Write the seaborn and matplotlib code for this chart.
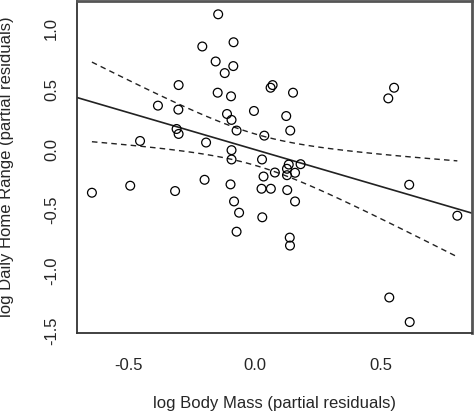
import numpy as np
import pandas as pd
import matplotlib
matplotlib.use('Agg')
import matplotlib.pyplot as plt
import seaborn as sns

#=====================
# DATA
#=====================
body_mass = [-0.146, -0.209, -0.085, -0.156, -0.086, -0.120, -0.303, -0.148,
             -0.095, 0.062, 0.070, 0.151, 0.529, 0.552, -0.385, -0.304,
             -0.111, -0.004, 0.124, -0.093, -0.311, -0.303, -0.073, 0.140,
             0.037, -0.456, -0.194, -0.093, -0.093, 0.028, 0.134, 0.181,
             0.127, 0.079, 0.159, 0.127, 0.034, -0.647, -0.495, -0.317,
             -0.200, -0.097, 0.026, 0.063, 0.128, 0.612, -0.083, 0.159,
             -0.063, 0.029, -0.073, 0.138, 0.139, 0.803, 0.533, 0.614]
home_range = [1.118, 0.852, 0.887, 0.728, 0.690, 0.632, 0.533, 0.470,
              0.440, 0.511, 0.533, 0.470, 0.423, 0.511, 0.363, 0.330,
              0.294, 0.319, 0.277, 0.245, 0.170, 0.129, 0.157, 0.157,
              0.115, 0.071, 0.058, -0.005, -0.082, -0.082, -0.124, -0.121,
              -0.159, -0.190, -0.192, -0.212, -0.223, -0.357, -0.299, -0.343,
              -0.250, -0.288, -0.324, -0.324, -0.335, -0.291, -0.429, -0.429,
              -0.522, -0.560, -0.679, -0.728, -0.794, -0.547, -1.223, -1.426]

x_ticks = [-0.5, 0.0, 0.5]
y_ticks = [-1.5, -1.0, -0.5, 0.0, 0.5, 1.0]
x_label = 'log Body Mass (partial residuals)'
y_label = 'log Daily Home Range (partial residuals)'

df = pd.DataFrame({'mass': body_mass, 'range': home_range})

#=====================
# FIT + 95% CONFIDENCE BAND
#=====================
x = df['mass'].values
y = df['range'].values
n = len(x)
slope, intercept = np.polyfit(x, y, 1)
resid = y - (intercept + slope * x)
s_err = np.sqrt(np.sum(resid ** 2) / (n - 2))
t_crit = 2.005  # t(0.975, 54)

xlim = (-0.705, 0.86)
ylim = (-1.519, 1.228)

grid_full = np.linspace(xlim[0], xlim[1], 100)
grid_data = np.linspace(x.min(), x.max(), 100)
se_fit = s_err * np.sqrt(1 / n + (grid_data - x.mean()) ** 2 / np.sum((x - x.mean()) ** 2))
fit_data = intercept + slope * grid_data

fit_df = pd.DataFrame({'x': grid_full, 'y': intercept + slope * grid_full})
band_df = pd.DataFrame({'x': grid_data, 'lo': fit_data - t_crit * se_fit,
                        'hi': fit_data + t_crit * se_fit})

#=====================
# PLOT
#=====================
sns.set_style('white')
plt.rcParams['font.family'] = ['Liberation Sans', 'DejaVu Sans']

fig = plt.figure(figsize=(4.74, 4.16), dpi=100, facecolor='white')
ax = fig.add_axes([77.3 / 474, 1 - 333.3 / 416, (471.7 - 77.3) / 474, 332.3 / 416])

sns.lineplot(data=fit_df, x='x', y='y', ax=ax, color='#222222', linewidth=1.2)
for col in ['lo', 'hi']:
    sns.lineplot(data=band_df, x='x', y=col, ax=ax, color='#222222',
                 linewidth=1.0, linestyle=(0, (4, 3)))
sns.scatterplot(data=df, x='mass', y='range', ax=ax, s=40, marker='o',
                facecolors='none', edgecolor='black', linewidth=0.9, zorder=3)

ax.set_xlim(*xlim)
ax.set_ylim(*ylim)
ax.set_xticks(x_ticks)
ax.set_yticks(y_ticks)
ax.set_xticklabels([f'{v:.1f}' for v in x_ticks])
ax.set_yticklabels([f'{v:.1f}' for v in y_ticks])
ax.tick_params(axis='x', length=7, width=1, pad=11, labelsize=12, color='#333333')
ax.tick_params(axis='y', length=7, width=1, pad=6, labelsize=12, color='#333333',
               labelrotation=90)
for lab in ax.get_yticklabels():
    lab.set_va('center')

ax.set_xlabel(x_label, fontsize=12)
ax.set_ylabel(y_label, fontsize=12)
ax.xaxis.set_label_coords(0.5, -0.19)
ax.yaxis.set_label_coords(-0.16, 0.5)
ax.yaxis.label.set_va('bottom')

for side in ['left', 'bottom']:
    ax.spines[side].set_color('#333333')
    ax.spines[side].set_linewidth(1.3)
for side in ['top', 'right']:
    ax.spines[side].set_color('#555555')
    ax.spines[side].set_linewidth(2)
ax.grid(False)

fig.savefig('out.png', dpi=100, facecolor='white')
